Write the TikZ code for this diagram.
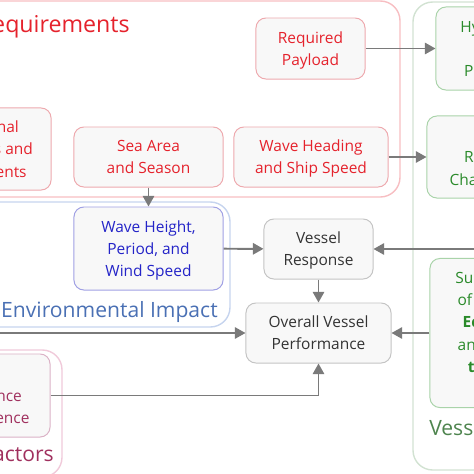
\documentclass[tikz,border=0pt]{standalone}
\usepackage{fontspec}
\setmainfont{Open Sans}
\usetikzlibrary{arrows.meta,positioning}

\definecolor{reqred}{HTML}{E5222C}
\definecolor{reqedge}{HTML}{EEA9AE}
\definecolor{reqframe}{HTML}{F7BEC2}
\definecolor{envblue}{HTML}{2424C8}
\definecolor{envedge}{HTML}{A0A0E4}
\definecolor{envtitle}{HTML}{4A70B4}
\definecolor{envframe}{HTML}{C6D4EE}
\definecolor{vesgreen}{HTML}{2A8A2A}
\definecolor{vesedge}{HTML}{A9D3A9}
\definecolor{vestitle}{HTML}{4E844E}
\definecolor{vesframe}{HTML}{D2E2D2}
\definecolor{humpurple}{HTML}{A0305E}
\definecolor{humedge}{HTML}{DBB2C6}
\definecolor{humframe}{HTML}{F0CADA}
\definecolor{coreedge}{HTML}{C4C4C4}
\definecolor{boxfill}{HTML}{F8F8F8}
\definecolor{linkgray}{HTML}{7A7A7A}

\tikzset{
  box/.style={draw, rounded corners=7pt, fill=boxfill, line width=0.7pt,
    align=center, inner sep=0pt, font=\fontsize{11}{15.8}\selectfont,
    text depth=-2.8pt},
  frame/.style={draw, rounded corners=14pt, line width=1pt},
  grouptitle/.style={inner sep=0pt, font=\fontsize{15}{18}\selectfont},
  link/.style={-{Triangle[length=7.5pt,width=8pt]}, line width=1.4pt, draw=linkgray},
}

\begin{document}
\begin{tikzpicture}[x=0.025cm, y=-0.025cm]
    \useasboundingbox (0,0) rectangle (474,474);
    \clip (0,0) rectangle (474,474);

    % Group frames
    \draw[frame, draw=reqframe] (-300,1) rectangle (400,197);
    \draw[frame, draw=envframe] (-300,202) rectangle (230,327);
    \draw[frame, draw=vesframe] (413,2) rectangle (700,470);
    \draw[frame, draw=humframe] (-300,350) rectangle (62,477);

    % Group titles
    \node[grouptitle, font=\fontsize{16.5}{19}\selectfont, text=reqred, anchor=base east] (reqtitle) at (130,32) {Requirements};
    \node[grouptitle, text=envtitle, anchor=base east] (envtitle) at (218,317) {Environmental Impact};
    \node[grouptitle, text=vestitle, anchor=base west] (vestitle) at (429,435) {Vessel Design};
    \node[grouptitle, text=humpurple, anchor=base east] (humtitle) at (54,461) {Human Factors};

    % Requirements
    \node[box, draw=reqedge, text=reqred, minimum width=2.725cm, minimum height=1.525cm] (payload) at (310.5,48.5) {Required\\Payload};
    \node[box, draw=reqedge, text=reqred, minimum width=3.75cm, minimum height=2.05cm] (oper) at (-24,149) {Operational\\Constraints and\\Requirements};
    \node[box, draw=reqedge, text=reqred, minimum width=3.725cm, minimum height=1.5cm] (seaarea) at (148.5,157) {Sea Area\\and Season};
    \node[box, draw=reqedge, text=reqred, minimum width=3.85cm, minimum height=1.5cm] (heading) at (311,157) {Wave Heading\\and Ship Speed};

    % Environment
    \node[box, draw=envedge, text=envblue, minimum width=3.725cm, minimum height=2.075cm] (waveh) at (148.5,248.5) {Wave Height,\\Period, and\\Wind Speed};

    % Response and performance
    \node[box, draw=coreedge, text=black!80, minimum width=2.725cm, minimum height=1.5cm] (response) at (318.5,249) {Vessel\\Response};
    \node[box, draw=coreedge, text=black!80, minimum width=3.625cm, minimum height=1.5cm] (overall) at (318.5,333) {Overall Vessel\\Performance};

    % Vessel design
    \node[box, draw=vesedge, text=vesgreen, minimum width=3.275cm, minimum height=2.075cm] (hydro) at (501.5,48.5) {Hydrostatic\\Hull\\Properties};
    \node[box, draw=vesedge, text=vesgreen, minimum width=3.775cm, minimum height=2.05cm] (resist) at (502.5,157) {Hull\\Resistance\\Characteristics};
    \node[box, draw=vesedge, text=vesgreen, minimum width=4.35cm, minimum height=3.725cm] (sustain) at (517,333) {};
    \node[box, draw=none, fill=none, text=vesgreen] (sustaintext) at (503.4,322) {Sustainability\\of Operation\\\textbf{Economics}\\and Comfort\\\textbf{tradeoffs}};

    % Human factors
    \node[box, draw=humedge, text=humpurple, minimum width=3.75cm, minimum height=2.075cm] (crew) at (-25,395.5) {Crew\\Performance\\Sea Experience};

    % Free ends off the picture
    \coordinate (fromright) at (490,249);
    \coordinate (fromleft) at (-10,333);

    % Connectors
    \draw[link] (payload) -- (hydro);
    \draw[link] (heading) -- (resist);
    \draw[link] (seaarea) -- (waveh);
    \draw[link] (waveh) -- (response);
    \draw[link] (fromright) -- (response);
    \draw[link] (response) -- (overall);
    \draw[link] (sustain.west |- overall.east) -- (overall.east);
    \draw[link] (fromleft) -- (overall.west);
    \draw[link] (crew.east) -| (overall.south);
\end{tikzpicture}
\end{document}
